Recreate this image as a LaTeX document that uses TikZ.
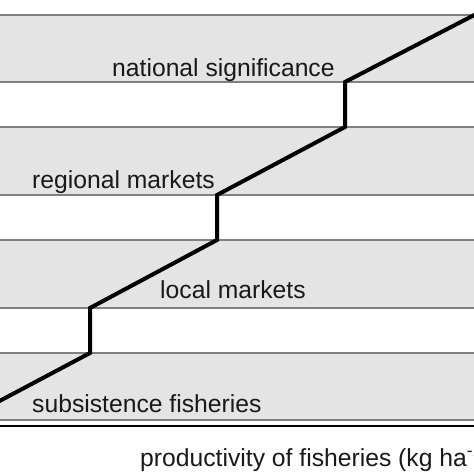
\documentclass[tikz,border=0pt]{standalone}
\usepackage{fontspec}
\setmainfont{Liberation Sans}
\definecolor{bandgray}{HTML}{E4E4E4}
\definecolor{linegray}{HTML}{808080}
\begin{document}
\begin{tikzpicture}[x=1pt,y=-1pt,
  band/.style={fill=bandgray,draw=none},
  bandline/.style={draw=linegray,line width=1.2pt},
  lbl/.style={anchor=base west,inner sep=0pt,font=\fontsize{24.7}{29}\selectfont,text=black!90},
  stepline/.style={line width=4pt,black,line join=miter}]
\useasboundingbox (0,0) rectangle (474,474);
\clip (0,0) rectangle (474,474);
% gray bands
\fill[band] (0,15) rectangle (474,82);
\fill[band] (0,127) rectangle (474,195);
\fill[band] (0,240) rectangle (474,308);
\fill[band] (0,353) rectangle (474,420);
% band lines
\foreach \y in {15,82,127,195,240,308,353,420}
  \draw[bandline] (0,\y) -- (474,\y);
% axis line
\draw[black,line width=2pt] (0,425.7) -- (474,425.7);
% labels
\node[lbl] (nat) at (112,76) {national significance};
\node[lbl] (reg) at (32,188) {regional markets};
\node[lbl] (loc) at (160,298) {local markets};
\node[lbl] (sub) at (32,412) {subsistence fisheries};
\node[lbl] (xlab) at (140,466) {productivity of fisheries (kg ha\textsuperscript{-1} yr\textsuperscript{-1})};
% step curve
\coordinate (p0) at (-8,405);
\coordinate (p1) at (90,353);
\coordinate (p2) at (90,308);
\coordinate (p3) at (217,240);
\coordinate (p4) at (217,195);
\coordinate (p5) at (345,127);
\coordinate (p6) at (345,82);
\coordinate (p7) at (482,11);
\draw[stepline] (p0) -- (p1) -- (p2) -- (p3) -- (p4) -- (p5) -- (p6) -- (p7);
\end{tikzpicture}
\end{document}
